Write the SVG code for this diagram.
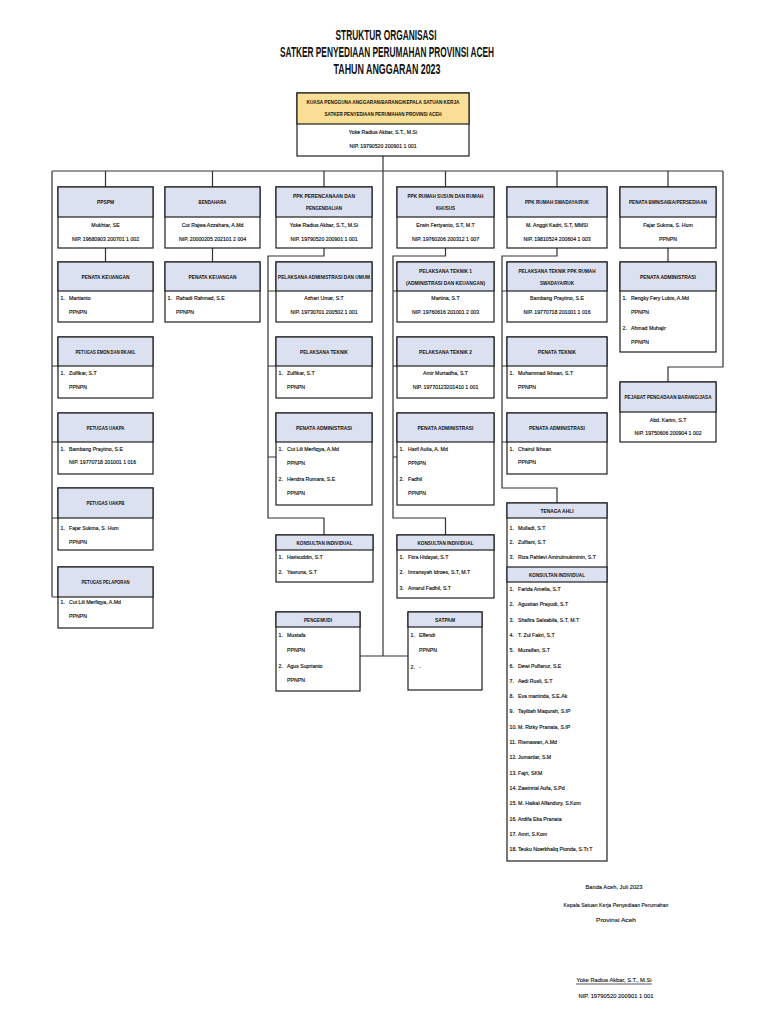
<svg xmlns="http://www.w3.org/2000/svg" width="768" height="1024" viewBox="0 0 768 1024">
<style>
text{font-family:"Liberation Sans Narrow","Arial Narrow","Liberation Sans",Arial,sans-serif;fill:#111}
.bx{fill:#fff;stroke:#1e1e1e;stroke-width:1.2}
.hd{fill:#dbe1f1;stroke:#1e1e1e;stroke-width:1.2}
.hy{fill:#f9df95;stroke:#1e1e1e;stroke-width:1.2}
.ht{font-size:5.6px;font-weight:bold;text-anchor:middle}
.bt{font-size:5.2px;stroke:#111;stroke-width:0.15}
.bc{font-size:5.2px;text-anchor:middle;stroke:#111;stroke-width:0.15}
.ti{font-size:14px;font-weight:bold;text-anchor:middle}
.sg{font-size:5.8px;text-anchor:middle;stroke:#111;stroke-width:0.12}
.cn{fill:none;stroke:#333;stroke-width:1.2}
</style>
<rect width="768" height="1024" fill="#fff"/>

<g id="title">
<text class="ti" x="386" y="40" textLength="101" lengthAdjust="spacingAndGlyphs">STRUKTUR  ORGANISASI</text>
<text class="ti" x="387" y="57" textLength="214" lengthAdjust="spacingAndGlyphs">SATKER PENYEDIAAN PERUMAHAN PROVINSI ACEH</text>
<text class="ti" x="387" y="74" textLength="107" lengthAdjust="spacingAndGlyphs">TAHUN  ANGGARAN  2023</text>
</g>

<g id="connectors">
<path class="cn" d="M383,156 V656"/>
<path class="cn" d="M52,171 H723"/>
<path class="cn" d="M105.5,171 V187 M212.5,171 V187 M324,171 V187 M445.5,171 V187 M557,171 V187 M668,171 V187"/>
<path class="cn" d="M52,171 V597 M52,366 H58 M52,442 H58 M52,518 H58 M52,597 H58"/>
<path class="cn" d="M105.5,248 V262 M212.5,248 V262"/>
<path class="cn" d="M324,248 V256 H268 V518 H324 V535 M268,291 H276 M268,366 H276 M268,457 H276"/>
<path class="cn" d="M445.5,248 V256 H393 V518 H445.5 V535 M393,291 H397 M393,366 H397 M393,457 H397"/>
<path class="cn" d="M557,248 V256 H502 V488 H557 V503 M502,291 H507 M502,366 H507 M502,442 H507"/>
<path class="cn" d="M668,248 V262 M723,171 V367 H668 V382"/>
<path class="cn" d="M360,656 H408"/>
</g>

<g id="kpa">
<rect class="bx" x="297" y="93" width="172" height="63"/>
<rect class="hy" x="297" y="93" width="172" height="31"/>
<text class="ht" x="383" y="104" textLength="153" lengthAdjust="spacingAndGlyphs">KUASA PENGGUNA ANGGARAN/BARANG/KEPALA SATUAN KERJA</text>
<text class="ht" x="383" y="116" textLength="117" lengthAdjust="spacingAndGlyphs">SATKER PENYEDIAAN PERUMAHAN PROVINSI ACEH</text>
<text class="bc" x="383" y="134">Yoke Radius Akbar, S.T., M.Si</text>
<text class="bc" x="383" y="148">NIP. 19790520 200901 1 001</text>
</g>

<!-- Row 1 -->
<g id="ppspm">
<rect class="bx" x="58" y="187" width="95" height="61"/>
<rect class="hd" x="58" y="187" width="95" height="30"/>
<text class="ht" x="105.5" y="204" textLength="17" lengthAdjust="spacingAndGlyphs">PPSPM</text>
<text class="bc" x="105.5" y="227">Mukhtar, SE</text>
<text class="bc" x="105.5" y="241">NIP. 19680903 200701 1 002</text>
</g>
<g id="bendahara">
<rect class="bx" x="165" y="187" width="95" height="61"/>
<rect class="hd" x="165" y="187" width="95" height="30"/>
<text class="ht" x="212.5" y="204" textLength="28" lengthAdjust="spacingAndGlyphs">BENDAHARA</text>
<text class="bc" x="212.5" y="227">Cut Rajwa Azzahara, A.Md</text>
<text class="bc" x="212.5" y="241">NIP. 20000205 202101 2 004</text>
</g>
<g id="ppk-perencanaan">
<rect class="bx" x="276" y="187" width="96" height="61"/>
<rect class="hd" x="276" y="187" width="96" height="30"/>
<text class="ht" x="324" y="198" textLength="62" lengthAdjust="spacingAndGlyphs">PPK PERENCANAAN DAN</text>
<text class="ht" x="324" y="210" textLength="36" lengthAdjust="spacingAndGlyphs">PENGENDALIAN</text>
<text class="bc" x="324" y="227">Yoke Radius Akbar, S.T., M.Si</text>
<text class="bc" x="324" y="241">NIP. 19790520 200901 1 001</text>
</g>
<g id="ppk-rusun">
<rect class="bx" x="397" y="187" width="97" height="61"/>
<rect class="hd" x="397" y="187" width="97" height="30"/>
<text class="ht" x="445.5" y="198" textLength="76" lengthAdjust="spacingAndGlyphs">PPK RUMAH SUSUN DAN RUMAH</text>
<text class="ht" x="445.5" y="210" textLength="19" lengthAdjust="spacingAndGlyphs">KHUSUS</text>
<text class="bc" x="445.5" y="227">Erwin Fertyanto, S.T, M.T</text>
<text class="bc" x="445.5" y="241">NIP. 19760206 200312 1 007</text>
</g>
<g id="ppk-swadaya">
<rect class="bx" x="507" y="187" width="100" height="61"/>
<rect class="hd" x="507" y="187" width="100" height="30"/>
<text class="ht" x="557" y="204" textLength="64" lengthAdjust="spacingAndGlyphs">PPK RUMAH SWADAYA/RUK</text>
<text class="bc" x="557" y="227">M. Anggit Kadri, S.T, MMSI</text>
<text class="bc" x="557" y="241">NIP. 19810524 200604 1 003</text>
</g>
<g id="penata-bmn">
<rect class="bx" x="620" y="187" width="96" height="61"/>
<rect class="hd" x="620" y="187" width="96" height="30"/>
<text class="ht" x="668" y="204" textLength="78" lengthAdjust="spacingAndGlyphs">PENATA BMN/SAIBA/PERSEDIAAN</text>
<text class="bc" x="668" y="227">Fajar Sukma, S. Hum</text>
<text class="bc" x="668" y="241">PPNPN</text>
</g>

<!-- Row 2 -->
<g id="penata-keuangan-1">
<rect class="bx" x="58" y="262" width="95" height="60"/>
<rect class="hd" x="58" y="262" width="95" height="29"/>
<text class="ht" x="105.5" y="279" textLength="48" lengthAdjust="spacingAndGlyphs">PENATA KEUANGAN</text>
<text class="bt" x="60.5" y="300">1.</text><text class="bt" x="69" y="300">Martianto</text>
<text class="bt" x="69" y="314">PPNPN</text>
</g>
<g id="penata-keuangan-2">
<rect class="bx" x="165" y="262" width="95" height="60"/>
<rect class="hd" x="165" y="262" width="95" height="29"/>
<text class="ht" x="212.5" y="279" textLength="48" lengthAdjust="spacingAndGlyphs">PENATA KEUANGAN</text>
<text class="bt" x="167.5" y="300">1.</text><text class="bt" x="176" y="300">Rahadi Rahmad, S.E</text>
<text class="bt" x="176" y="314">PPNPN</text>
</g>
<g id="pelaksana-adm-umum">
<rect class="bx" x="276" y="262" width="96" height="60"/>
<rect class="hd" x="276" y="262" width="96" height="29"/>
<text class="ht" x="324" y="279" textLength="92" lengthAdjust="spacingAndGlyphs">PELAKSANA ADMINISTRASI DAN UMUM</text>
<text class="bc" x="324" y="300">Azhari Umar, S.T</text>
<text class="bc" x="324" y="314">NIP. 19730701 200502 1 001</text>
</g>
<g id="pelaksana-teknik-1">
<rect class="bx" x="397" y="262" width="97" height="60"/>
<rect class="hd" x="397" y="262" width="97" height="29"/>
<text class="ht" x="445.5" y="273" textLength="53" lengthAdjust="spacingAndGlyphs">PELAKSANA TEKNIK 1</text>
<text class="ht" x="445.5" y="285" textLength="79" lengthAdjust="spacingAndGlyphs">(ADMINISTRASI DAN KEUANGAN)</text>
<text class="bc" x="445.5" y="300">Martina, S.T</text>
<text class="bc" x="445.5" y="314">NIP. 19760616 201001 2 003</text>
</g>
<g id="pelaksana-teknik-swadaya">
<rect class="bx" x="507" y="262" width="100" height="60"/>
<rect class="hd" x="507" y="262" width="100" height="29"/>
<text class="ht" x="557" y="273" textLength="77" lengthAdjust="spacingAndGlyphs">PELAKSANA TEKNIK PPK RUMAH</text>
<text class="ht" x="557" y="285" textLength="34" lengthAdjust="spacingAndGlyphs">SWADAYA/RUK</text>
<text class="bc" x="557" y="300">Bambang Prayitno, S.E</text>
<text class="bc" x="557" y="314">NIP. 19770718 201001 1 016</text>
</g>
<g id="penata-adm-bmn">
<rect class="bx" x="620" y="262" width="96" height="90"/>
<rect class="hd" x="620" y="262" width="96" height="29"/>
<text class="ht" x="668" y="279" textLength="56" lengthAdjust="spacingAndGlyphs">PENATA ADMINISTRASI</text>
<text class="bt" x="622.5" y="300">1.</text><text class="bt" x="631" y="300">Rengky Fery Lubis, A.Md</text>
<text class="bt" x="631" y="314">PPNPN</text>
<text class="bt" x="622.5" y="330">2.</text><text class="bt" x="631" y="330">Ahmad Muhajir</text>
<text class="bt" x="631" y="344">PPNPN</text>
</g>

<!-- Row 3 -->
<g id="petugas-emon">
<rect class="bx" x="58" y="337" width="95" height="61"/>
<rect class="hd" x="58" y="337" width="95" height="29"/>
<text class="ht" x="105.5" y="354" textLength="60" lengthAdjust="spacingAndGlyphs">PETUGAS EMON DAN RKAKL</text>
<text class="bt" x="60.5" y="375">1.</text><text class="bt" x="69" y="375">Zulfikar, S.T</text>
<text class="bt" x="69" y="389">PPNPN</text>
</g>
<g id="pelaksana-teknik">
<rect class="bx" x="276" y="337" width="96" height="61"/>
<rect class="hd" x="276" y="337" width="96" height="29"/>
<text class="ht" x="324" y="354" textLength="48" lengthAdjust="spacingAndGlyphs">PELAKSANA TEKNIK</text>
<text class="bt" x="278.5" y="375">1.</text><text class="bt" x="287" y="375">Zulfikar, S.T</text>
<text class="bt" x="287" y="389">PPNPN</text>
</g>
<g id="pelaksana-teknik-2">
<rect class="bx" x="397" y="337" width="97" height="61"/>
<rect class="hd" x="397" y="337" width="97" height="29"/>
<text class="ht" x="445.5" y="354" textLength="53" lengthAdjust="spacingAndGlyphs">PELAKSANA TEKNIK 2</text>
<text class="bc" x="445.5" y="375">Amir Murtadha, S.T</text>
<text class="bc" x="445.5" y="389">NIP. 19770123201410 1 001</text>
</g>
<g id="penata-teknik">
<rect class="bx" x="507" y="337" width="100" height="61"/>
<rect class="hd" x="507" y="337" width="100" height="29"/>
<text class="ht" x="557" y="354" textLength="38" lengthAdjust="spacingAndGlyphs">PENATA TEKNIK</text>
<text class="bt" x="509.5" y="375">1.</text><text class="bt" x="518" y="375">Muhammad Ikhsan, S.T</text>
<text class="bt" x="518" y="389">PPNPN</text>
</g>
<g id="pejabat-pengadaan">
<rect class="bx" x="620" y="382" width="96" height="60"/>
<rect class="hd" x="620" y="382" width="96" height="30"/>
<text class="ht" x="668" y="399" textLength="87" lengthAdjust="spacingAndGlyphs">PEJABAT PENGADAAN BARANG/JASA</text>
<text class="bc" x="668" y="422">Abd. Karim, S.T</text>
<text class="bc" x="668" y="435">NIP. 19750606 200904 1 002</text>
</g>

<!-- Row 4 -->
<g id="petugas-uakpa">
<rect class="bx" x="58" y="413" width="95" height="61"/>
<rect class="hd" x="58" y="413" width="95" height="29"/>
<text class="ht" x="105.5" y="430" textLength="38" lengthAdjust="spacingAndGlyphs">PETUGAS UAKPA</text>
<text class="bt" x="60.5" y="451">1.</text><text class="bt" x="69" y="451">Bambang Prayitno, S.E</text>
<text class="bt" x="69" y="464">NIP. 19770718 201001 1 016</text>
</g>
<g id="penata-adm-perencanaan">
<rect class="bx" x="276" y="413" width="96" height="92"/>
<rect class="hd" x="276" y="413" width="96" height="29"/>
<text class="ht" x="324" y="430" textLength="56" lengthAdjust="spacingAndGlyphs">PENATA ADMINISTRASI</text>
<text class="bt" x="278.5" y="451">1.</text><text class="bt" x="287" y="451">Cut Lili Merfiqya, A.Md</text>
<text class="bt" x="287" y="465">PPNPN</text>
<text class="bt" x="278.5" y="481">2.</text><text class="bt" x="287" y="481">Hendra Rumara, S.E</text>
<text class="bt" x="287" y="495">PPNPN</text>
</g>
<g id="penata-adm-rusun">
<rect class="bx" x="397" y="413" width="97" height="92"/>
<rect class="hd" x="397" y="413" width="97" height="29"/>
<text class="ht" x="445.5" y="430" textLength="56" lengthAdjust="spacingAndGlyphs">PENATA ADMINISTRASI</text>
<text class="bt" x="399.5" y="451">1.</text><text class="bt" x="408" y="451">Harif Aulia, A. Md</text>
<text class="bt" x="408" y="465">PPNPN</text>
<text class="bt" x="399.5" y="481">2.</text><text class="bt" x="408" y="481">Fadhil</text>
<text class="bt" x="408" y="495">PPNPN</text>
</g>
<g id="penata-adm-swadaya">
<rect class="bx" x="507" y="413" width="100" height="61"/>
<rect class="hd" x="507" y="413" width="100" height="29"/>
<text class="ht" x="557" y="430" textLength="56" lengthAdjust="spacingAndGlyphs">PENATA ADMINISTRASI</text>
<text class="bt" x="509.5" y="451">1.</text><text class="bt" x="518" y="451">Chairul Ikhsan</text>
<text class="bt" x="518" y="464">PPNPN</text>
</g>

<!-- Row 5 -->
<g id="petugas-uakpb">
<rect class="bx" x="58" y="488" width="95" height="62"/>
<rect class="hd" x="58" y="488" width="95" height="30"/>
<text class="ht" x="105.5" y="505" textLength="38" lengthAdjust="spacingAndGlyphs">PETUGAS UAKPB</text>
<text class="bt" x="60.5" y="530">1.</text><text class="bt" x="69" y="530">Fajar Sukma, S. Hum</text>
<text class="bt" x="69" y="544">PPNPN</text>
</g>
<g id="petugas-pelaporan">
<rect class="bx" x="58" y="567" width="95" height="61"/>
<rect class="hd" x="58" y="567" width="95" height="30"/>
<text class="ht" x="105.5" y="584" textLength="48" lengthAdjust="spacingAndGlyphs">PETUGAS PELAPORAN</text>
<text class="bt" x="60.5" y="604">1.</text><text class="bt" x="69" y="604">Cut Lili Merfiqya, A.Md</text>
<text class="bt" x="69" y="618">PPNPN</text>
</g>
<g id="konsultan-perencanaan">
<rect class="bx" x="276" y="535" width="97" height="47"/>
<rect class="hd" x="276" y="535" width="97" height="15"/>
<text class="ht" x="324.5" y="545" textLength="56" lengthAdjust="spacingAndGlyphs">KONSULTAN INDIVIDUAL</text>
<text class="bt" x="278.5" y="559">1.</text><text class="bt" x="287" y="559">Harisuddin, S.T</text>
<text class="bt" x="278.5" y="574">2.</text><text class="bt" x="287" y="574">Yasruna, S.T</text>
</g>
<g id="konsultan-rusun">
<rect class="bx" x="397" y="535" width="97" height="63"/>
<rect class="hd" x="397" y="535" width="97" height="15"/>
<text class="ht" x="445.5" y="545" textLength="56" lengthAdjust="spacingAndGlyphs">KONSULTAN INDIVIDUAL</text>
<text class="bt" x="399.5" y="559">1.</text><text class="bt" x="408" y="559">Fitra Hidayat, S.T</text>
<text class="bt" x="399.5" y="574">2.</text><text class="bt" x="408" y="574">Imransyah Idroes, S.T, M.T</text>
<text class="bt" x="399.5" y="590">3.</text><text class="bt" x="408" y="590">Amarul Fadhil, S.T</text>
</g>
<g id="pengemudi">
<rect class="bx" x="276" y="612" width="84" height="79"/>
<rect class="hd" x="276" y="612" width="84" height="15"/>
<text class="ht" x="318" y="622" textLength="28" lengthAdjust="spacingAndGlyphs">PENGEMUDI</text>
<text class="bt" x="278.5" y="637">1.</text><text class="bt" x="287" y="637">Mustafa</text>
<text class="bt" x="287" y="652">PPNPN</text>
<text class="bt" x="278.5" y="668">2.</text><text class="bt" x="287" y="668">Agus Suprianto</text>
<text class="bt" x="287" y="682">PPNPN</text>
</g>
<g id="satpam">
<rect class="bx" x="408" y="612" width="74" height="78"/>
<rect class="hd" x="408" y="612" width="74" height="15"/>
<text class="ht" x="445" y="622" textLength="20" lengthAdjust="spacingAndGlyphs">SATPAM</text>
<text class="bt" x="410.5" y="637">1.</text><text class="bt" x="419" y="637">Effendi</text>
<text class="bt" x="419" y="652">PPNPN</text>
<text class="bt" x="410.5" y="669">2.</text><text class="bt" x="419" y="669">-</text>
</g>
<g id="tenaga-ahli">
<rect class="bx" x="507" y="503" width="100" height="358"/>
<rect class="hd" x="507" y="503" width="100" height="15"/>
<text class="ht" x="557" y="513" textLength="33" lengthAdjust="spacingAndGlyphs">TENAGA AHLI</text>
<text class="bt" x="509.5" y="530">1.</text><text class="bt" x="518" y="530">Mulladi, S.T</text>
<text class="bt" x="509.5" y="544">2.</text><text class="bt" x="518" y="544">Zulfiani, S.T</text>
<text class="bt" x="509.5" y="559">3.</text><text class="bt" x="518" y="559">Riza Pahlevi Amirulmukminin, S.T</text>
<rect class="hd" x="507" y="567" width="100" height="15"/>
<text class="ht" x="557" y="577" textLength="56" lengthAdjust="spacingAndGlyphs">KONSULTAN INDIVIDUAL</text>
<text class="bt" x="509.5" y="591">1.</text><text class="bt" x="518" y="591">Farida Amelia, S.T</text>
<text class="bt" x="509.5" y="606.3">2.</text><text class="bt" x="518" y="606.3">Agustian Prayudi, S.T</text>
<text class="bt" x="509.5" y="621.6">3.</text><text class="bt" x="518" y="621.6">Shafira Salsabila, S.T, M.T</text>
<text class="bt" x="509.5" y="636.9">4.</text><text class="bt" x="518" y="636.9">T. Zul Fakri, S.T</text>
<text class="bt" x="509.5" y="652.2">5.</text><text class="bt" x="518" y="652.2">Muzaifan, S.T</text>
<text class="bt" x="509.5" y="667.5">6.</text><text class="bt" x="518" y="667.5">Dewi Puflanur, S.E</text>
<text class="bt" x="509.5" y="682.8">7.</text><text class="bt" x="518" y="682.8">Aedi Rusli, S.T</text>
<text class="bt" x="509.5" y="698.1">8.</text><text class="bt" x="518" y="698.1">Eva martinda, S.E.Ak</text>
<text class="bt" x="509.5" y="713.4">9.</text><text class="bt" x="518" y="713.4">Tayibah Maqurah, S.IP</text>
<text class="bt" x="509.5" y="728.7">10.</text><text class="bt" x="518" y="728.7">M. Rizky Pranata, S.IP</text>
<text class="bt" x="509.5" y="744">11.</text><text class="bt" x="518" y="744">Rismawan, A.Md</text>
<text class="bt" x="509.5" y="759.3">12.</text><text class="bt" x="518" y="759.3">Jumanlar, S.M</text>
<text class="bt" x="509.5" y="774.6">13.</text><text class="bt" x="518" y="774.6">Fajri, SKM</text>
<text class="bt" x="509.5" y="789.9">14.</text><text class="bt" x="518" y="789.9">Zawinrial Aufa, S.Pd</text>
<text class="bt" x="509.5" y="805.2">15.</text><text class="bt" x="518" y="805.2">M. Haikal Alfandury, S.Kom</text>
<text class="bt" x="509.5" y="820.5">16.</text><text class="bt" x="518" y="820.5">Ardifa Eka Pranata</text>
<text class="bt" x="509.5" y="835.8">17.</text><text class="bt" x="518" y="835.8">Amri, S.Kom</text>
<text class="bt" x="509.5" y="851.1">18.</text><text class="bt" x="518" y="851.1">Teuku Noerkhaliq Pionda, S.Tr.T</text>
</g>

<g id="signature">
<text class="sg" x="614" y="889" textLength="57" lengthAdjust="spacingAndGlyphs">Banda Aceh,  Juli 2023</text>
<text class="sg" x="616" y="907" textLength="105" lengthAdjust="spacingAndGlyphs">Kepala Satuan Kerja Penyediaan Perumahan</text>
<text class="sg" x="616" y="922" textLength="40" lengthAdjust="spacingAndGlyphs">Provinsi Aceh</text>
<text class="sg" x="614" y="982" textLength="75" lengthAdjust="spacingAndGlyphs">Yoke Radius Akbar, S.T., M.Si</text>
<line x1="576" y1="984" x2="652" y2="984" stroke="#111" stroke-width="0.7"/>
<text class="sg" x="616" y="998" textLength="75" lengthAdjust="spacingAndGlyphs">NIP. 19790520 200901 1 001</text>
</g>
</svg>
